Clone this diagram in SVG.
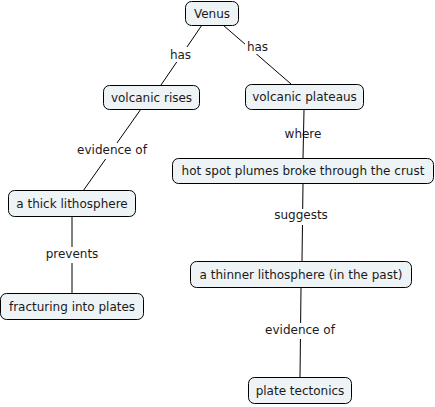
<svg xmlns="http://www.w3.org/2000/svg" width="435" height="407" viewBox="0 0 435 407">
<style>
.n rect{fill:#eef3f6;stroke:#000;stroke-width:1}
text{font-family:"DejaVu Sans",Verdana,sans-serif;font-size:12px;fill:#1a1a1a;text-anchor:middle}
.c line{stroke:#000;stroke-width:1}
.lb{fill:#fff}
</style>
<rect width="435" height="407" fill="#fff"/>
<g class="c" id="connectors">
<line x1="202" y1="25" x2="161" y2="85"/>
<line x1="223" y1="25" x2="291" y2="84"/>
<line x1="141" y1="109" x2="83" y2="191"/>
<line x1="303" y1="184" x2="302" y2="261"/>
<line x1="301" y1="288" x2="300" y2="377"/>
<line x1="72" y1="217" x2="72" y2="293"/>
<g id="labels">
<rect class="lb" x="168" y="47" width="25" height="15"/>
<text x="180.5" y="59">has</text>
<rect class="lb" x="245" y="39" width="25" height="15"/>
<text x="257.5" y="51">has</text>
<text x="303" y="138">where</text>
<rect class="lb" x="75" y="143" width="74" height="16"/>
<text x="112" y="154">evidence of</text>
<rect class="lb" x="44" y="247" width="56" height="16"/>
<text x="72" y="258">prevents</text>
<rect class="lb" x="273" y="209" width="56" height="16"/>
<text x="301" y="219">suggests</text>
<rect class="lb" x="263" y="323" width="74" height="16"/>
<text x="300" y="334">evidence of</text>
</g>
<line x1="304" y1="110" x2="303" y2="158" stroke-width="1.3"/>
</g>
<g class="n" id="venus"><rect x="185.5" y="1.5" width="53" height="24" rx="6"/><text x="212" y="18">Venus</text></g>
<g class="n" id="volcanic-rises"><rect x="103.5" y="85.5" width="96" height="24" rx="6"/><text x="151.5" y="102">volcanic rises</text></g>
<g class="n" id="volcanic-plateaus"><rect x="245.5" y="84.5" width="118" height="25" rx="6"/><text x="304.5" y="101">volcanic plateaus</text></g>
<g class="n" id="hot-spot"><rect x="172.5" y="158.5" width="261" height="25" rx="6"/><text x="303" y="175">hot spot plumes broke through the crust</text></g>
<g class="n" id="thick"><rect x="8.5" y="190.5" width="127" height="26" rx="6"/><text x="72" y="208">a thick lithosphere</text></g>
<g class="n" id="fracturing"><rect x="0.5" y="293.5" width="143" height="26" rx="6"/><text x="72" y="311">fracturing into plates</text></g>
<g class="n" id="thinner"><rect x="190.5" y="261.5" width="221" height="26" rx="6"/><text x="301" y="279">a thinner lithosphere (in the past)</text></g>
<g class="n" id="plate-tectonics"><rect x="248.5" y="377.5" width="103" height="26" rx="6"/><text x="300" y="395">plate tectonics</text></g>
</svg>
